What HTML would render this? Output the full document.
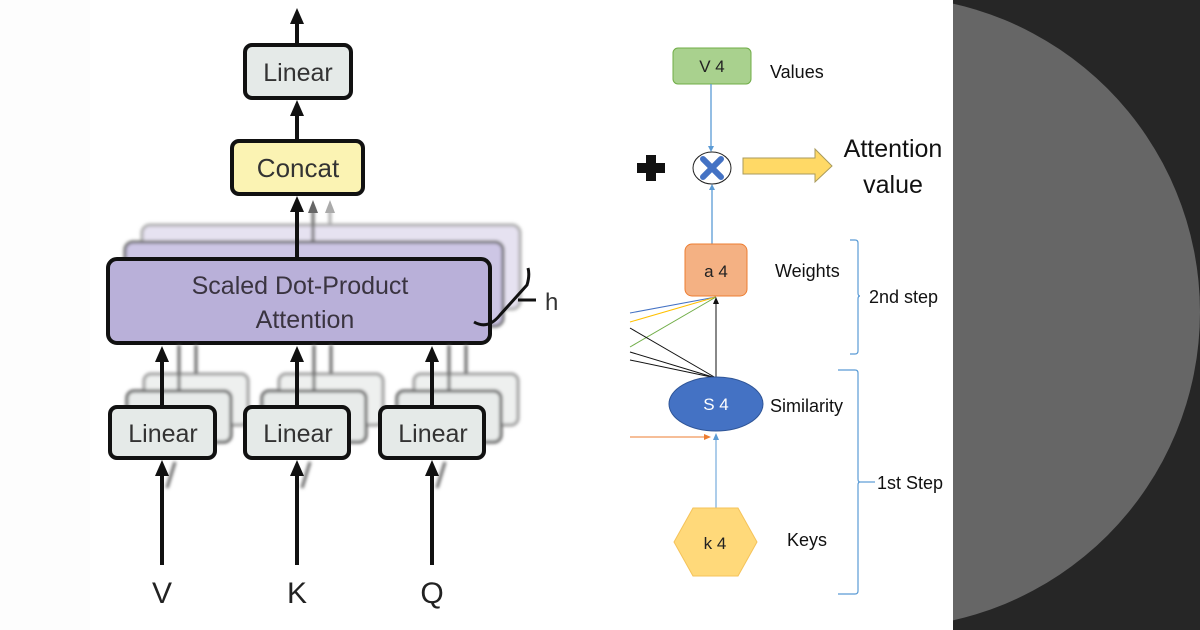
<!DOCTYPE html>
<html><head><meta charset="utf-8"><style>
html,body{margin:0;padding:0;background:#fff;width:1200px;height:630px;overflow:hidden}
svg{display:block}
.l{font-family:"Liberation Sans",sans-serif}
.c{font-family:"Liberation Sans",sans-serif}
</style></head><body>
<svg width="1200" height="630" viewBox="0 0 1200 630" xmlns="http://www.w3.org/2000/svg">
<defs>
<filter id="bl"><feGaussianBlur stdDeviation="1.5"/></filter>
</defs>
<rect x="0" y="0" width="90" height="630" fill="#fdfdfd"/>
<g stroke-linecap="butt">
<line x1="297" y1="45" x2="297" y2="14" stroke="#111" stroke-width="4"/>
<path d="M290,24 L297,8 L304,24 Z" fill="#111"/>
<rect x="245" y="45" width="106" height="53" rx="7" fill="#e5eae8" stroke="#111" stroke-width="4"/>
<text x="298" y="81" class="l" font-size="25" text-anchor="middle" fill="#333">Linear</text>
<line x1="297" y1="141" x2="297" y2="108" stroke="#111" stroke-width="4"/>
<path d="M290,116 L297,100 L304,116 Z" fill="#111"/>
<rect x="232" y="141" width="131" height="53" rx="7" fill="#fbf3b3" stroke="#111" stroke-width="4"/>
<text x="298" y="177" class="l" font-size="26" text-anchor="middle" fill="#333">Concat</text>
<g filter="url(#bl)">
<rect x="142" y="225" width="378" height="84" rx="8" fill="#e6e2f1" stroke="#aaa" stroke-width="3"/>
<rect x="125" y="242" width="378" height="84" rx="8" fill="#cdc6e5" stroke="#666" stroke-width="3"/>
<line x1="330" y1="225" x2="330" y2="208" stroke="#aaa" stroke-width="3"/>
<line x1="313" y1="242" x2="313" y2="208" stroke="#666" stroke-width="3"/>
</g>
<path d="M325,213 L330,200 L335,213 Z" fill="#aaa"/>
<path d="M308,213 L313,200 L318,213 Z" fill="#666"/>
<line x1="297" y1="259" x2="297" y2="208" stroke="#111" stroke-width="4"/>
<path d="M290,212 L297,196 L304,212 Z" fill="#111"/>
<rect x="108" y="259" width="382" height="84" rx="9" fill="#b9b0d9" stroke="#111" stroke-width="4"/>
<text x="300" y="294" class="l" font-size="25" text-anchor="middle" fill="#3a3440">Scaled Dot-Product</text>
<text x="305" y="328" class="l" font-size="25" text-anchor="middle" fill="#3a3440">Attention</text>
<path d="M474,322 Q488,330 500,315 L527,285 Q530,275 528,268" fill="none" stroke="#111" stroke-width="3"/>
<line x1="518" y1="300" x2="536" y2="300" stroke="#111" stroke-width="3"/>
<text x="545" y="310" class="l" font-size="24" fill="#333">h</text>
<g filter="url(#bl)">
<g fill="#eef0ef" stroke="#999" stroke-width="3">
<rect x="144" y="374" width="104" height="51" rx="7"/>
<rect x="279" y="374" width="104" height="51" rx="7"/>
<rect x="414" y="374" width="104" height="51" rx="7"/>
</g>
<g fill="#e8ebea" stroke="#555" stroke-width="3">
<rect x="127" y="391" width="104" height="51" rx="7"/>
<rect x="262" y="391" width="104" height="51" rx="7"/>
<rect x="397" y="391" width="104" height="51" rx="7"/>
</g>
<g stroke="#666" stroke-width="3">
<line x1="179" y1="391" x2="179" y2="345"/><line x1="196" y1="374" x2="196" y2="345"/>
<line x1="314" y1="391" x2="314" y2="345"/><line x1="331" y1="374" x2="331" y2="345"/>
<line x1="449" y1="391" x2="449" y2="345"/><line x1="466" y1="374" x2="466" y2="345"/>
<line x1="167" y1="488" x2="175" y2="462"/><line x1="302" y1="488" x2="310" y2="462"/><line x1="437" y1="488" x2="445" y2="462"/>
</g>
</g>
<g fill="#e5eae8" stroke="#111" stroke-width="4">
<rect x="110" y="407" width="105" height="51" rx="7"/>
<rect x="245" y="407" width="104" height="51" rx="7"/>
<rect x="380" y="407" width="104" height="51" rx="7"/>
</g>
<g class="l" font-size="25" text-anchor="middle" fill="#333">
<text x="163" y="442">Linear</text><text x="298" y="442">Linear</text><text x="433" y="442">Linear</text>
</g>
<g stroke="#111" stroke-width="4">
<line x1="162" y1="407" x2="162" y2="360"/><line x1="297" y1="407" x2="297" y2="360"/><line x1="432" y1="407" x2="432" y2="360"/>
<line x1="162" y1="565" x2="162" y2="475"/><line x1="297" y1="565" x2="297" y2="475"/><line x1="432" y1="565" x2="432" y2="475"/>
</g>
<g fill="#111">
<path d="M155,362 L162,346 L169,362 Z"/><path d="M290,362 L297,346 L304,362 Z"/><path d="M425,362 L432,346 L439,362 Z"/>
<path d="M155,476 L162,460 L169,476 Z"/><path d="M290,476 L297,460 L304,476 Z"/><path d="M425,476 L432,460 L439,476 Z"/>
</g>
<g class="l" font-size="30" text-anchor="middle" fill="#222">
<text x="162" y="603">V</text><text x="297" y="603">K</text><text x="432" y="603">Q</text>
</g>
</g>
<rect x="673" y="48" width="78" height="36" rx="5" fill="#a9d18e" stroke="#70ad47" stroke-width="1"/>
<text x="712" y="72" class="c" font-size="17" text-anchor="middle" fill="#222">V 4</text>
<text x="770" y="78" class="c" font-size="18" fill="#111">Values</text>
<line x1="711" y1="84" x2="711" y2="148" stroke="#5b9bd5" stroke-width="1.3"/>
<path d="M708,146 L711,152 L714,146 Z" fill="#5b9bd5"/>
<ellipse cx="712" cy="168" rx="19" ry="16" fill="#fff" stroke="#222" stroke-width="1"/>
<path d="M703,159 L721,177 M721,159 L703,177" stroke="#4472c4" stroke-width="6" stroke-linecap="round"/>
<path d="M646,155 h10 v8 h9 v10 h-9 v8 h-10 v-8 h-9 v-10 h9 Z" fill="#111"/>
<path d="M743,158 L815,158 L815,149 L832,166 L815,182 L815,174 L743,174 Z" fill="#ffd966" stroke="#a89a5c" stroke-width="1"/>
<text x="893" y="157" class="c" font-size="25" text-anchor="middle" fill="#111">Attention</text>
<text x="893" y="193" class="c" font-size="25" text-anchor="middle" fill="#111">value</text>
<line x1="712" y1="244" x2="712" y2="188" stroke="#5b9bd5" stroke-width="1.3"/>
<path d="M709,190 L712,184 L715,190 Z" fill="#5b9bd5"/>
<rect x="685" y="244" width="62" height="52" rx="7" fill="#f4b183" stroke="#ed7d31" stroke-width="1"/>
<text x="716" y="277" class="c" font-size="17" text-anchor="middle" fill="#222">a 4</text>
<text x="775" y="277" class="c" font-size="18" fill="#111">Weights</text>
<path d="M850,240 h5 q3,0 3,3 v50 q0,3 2,3 q-2,0 -2,3 v52 q0,3 -3,3 h-5" fill="none" stroke="#5b9bd5" stroke-width="1.2"/>
<text x="869" y="303" class="c" font-size="18" fill="#111">2nd step</text>
<line x1="630" y1="313" x2="716" y2="297" stroke="#4472c4" stroke-width="1"/>
<line x1="630" y1="322" x2="716" y2="297" stroke="#ffc000" stroke-width="1"/>
<line x1="630" y1="347" x2="716" y2="297" stroke="#70ad47" stroke-width="1"/>
<line x1="630" y1="328" x2="716" y2="378" stroke="#111" stroke-width="1"/>
<line x1="630" y1="352" x2="716" y2="378" stroke="#111" stroke-width="1"/>
<line x1="630" y1="360" x2="716" y2="378" stroke="#111" stroke-width="1"/>
<line x1="716" y1="378" x2="716" y2="302" stroke="#111" stroke-width="1"/>
<path d="M713,304 L716,297 L719,304 Z" fill="#111"/>
<ellipse cx="716" cy="404" rx="47" ry="27" fill="#4472c4" stroke="#2f5597" stroke-width="1"/>
<text x="716" y="410" class="c" font-size="17" text-anchor="middle" fill="#fff">S 4</text>
<text x="770" y="412" class="c" font-size="18" fill="#111">Similarity</text>
<line x1="630" y1="437" x2="706" y2="437" stroke="#ed7d31" stroke-width="1"/>
<path d="M704,434 L711,437 L704,440 Z" fill="#ed7d31"/>
<line x1="716" y1="508" x2="716" y2="438" stroke="#5b9bd5" stroke-width="1"/>
<path d="M713,440 L716,433 L719,440 Z" fill="#5b9bd5"/>
<path d="M674,542 L693,508 L738,508 L757,542 L738,576 L693,576 Z" fill="#ffd97a" stroke="#f5c35a" stroke-width="1"/>
<text x="715" y="549" class="c" font-size="17" text-anchor="middle" fill="#222">k 4</text>
<text x="787" y="546" class="c" font-size="18" fill="#111">Keys</text>
<path d="M838,370 h17 q3,0 3,3 v106 q0,3 2,3 q-2,0 -2,3 v106 q0,3 -3,3 h-17" fill="none" stroke="#5b9bd5" stroke-width="1.2"/>
<line x1="860" y1="482" x2="875" y2="482" stroke="#5b9bd5" stroke-width="1.2"/>
<text x="877" y="489" class="c" font-size="18" fill="#111">1st Step</text>
<rect x="953" y="0" width="247" height="630" fill="#262626"/>
<clipPath id="cp"><rect x="953" y="0" width="247" height="630"/></clipPath>
<circle cx="884" cy="312" r="316" fill="#666" clip-path="url(#cp)"/>
</svg>
</body></html>
